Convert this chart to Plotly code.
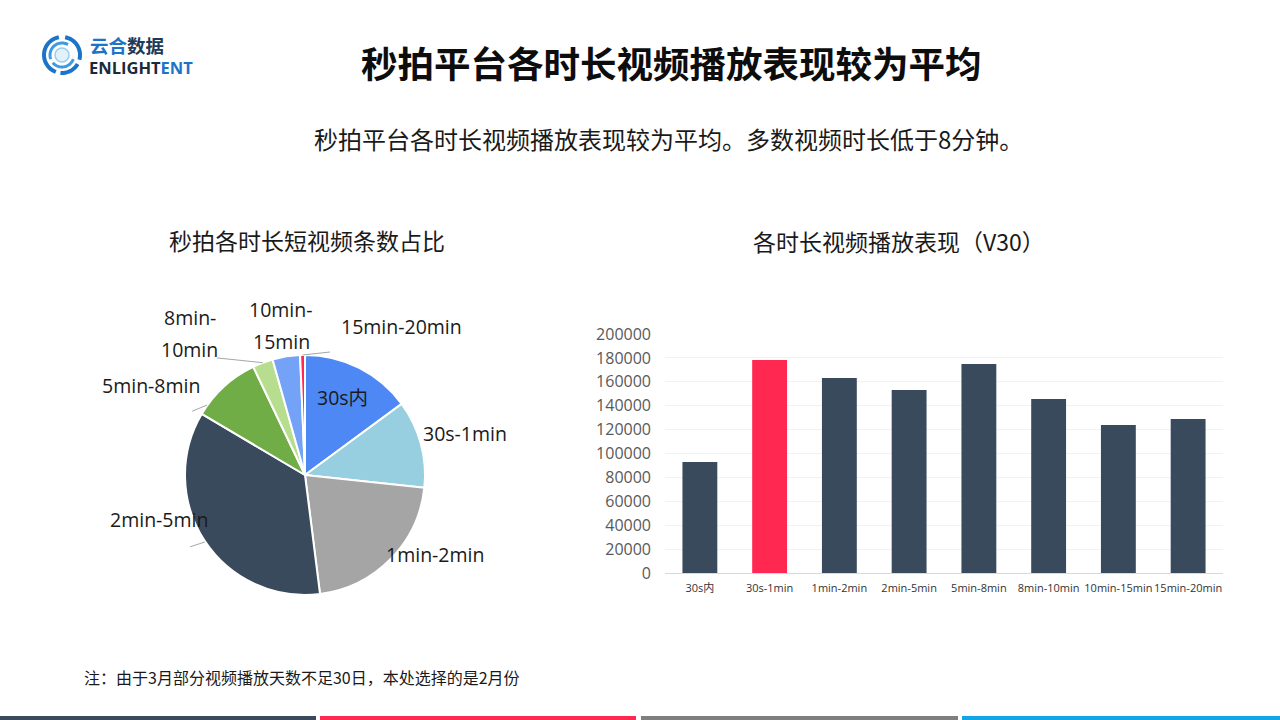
import numpy as np
import plotly.graph_objects as go

W, H = 1280, 720

# ---------------- data ----------------
pie_labels = ["30s内", "30s-1min", "1min-2min", "2min-5min", "5min-8min",
              "8min-10min", "10min-15min", "15min-20min"]
pie_values = [14.9, 11.8, 21.3, 35.5, 9.4, 2.75, 3.7, 0.65]

bar_categories = ["30s内", "30s-1min", "1min-2min", "2min-5min", "5min-8min",
                  "8min-10min", "10min-15min", "15min-20min"]
bar_values = [93000, 178300, 163200, 153200, 174900, 145700, 123900, 129000]
y_tick_values = [0, 20000, 40000, 60000, 80000, 100000, 120000, 140000, 160000, 180000, 200000]

title_text = "秒拍平台各时长视频播放表现较为平均"
subtitle_text = "秒拍平台各时长视频播放表现较为平均。多数视频时长低于8分钟。"
pie_title = "秒拍各时长短视频条数占比"
bar_title = "各时长视频播放表现（V30）"
note_text = "注：由于3月部分视频播放天数不足30日，本处选择的是2月份"

# ---------------- styles ----------------
pie_colors = ["#4D88F5", "#97CEE0", "#A5A5A5", "#394A5D", "#70AD47",
              "#B7DE8E", "#74A2F7", "#FF2850"]
bar_colors = ["#394A5D", "#FF2850", "#394A5D", "#394A5D", "#394A5D",
              "#394A5D", "#394A5D", "#394A5D"]
# label display text (line breaks), radial factor, angle offset (deg)
pie_label_lines = [["30s内"], ["30s-1min"], ["1min-2min"], ["2min-5min"], ["5min-8min"],
                   ["8min-", "10min"], ["10min-", "15min"], ["15min-20min"]]
pie_label_r = [0.72, 1.377, 1.27, 1.27, 1.48, 1.52, 1.26, 1.475]
pie_label_dang = [-0.8, 0.7, -13.2, 16.2, -17.4, -18.6, 0.0, 34.4]
# leader lines: slice index -> (start radius, start angle or None=mid, end radius, end angle)
leader = {7: (1.0, None, 1.046, 11.5), 5: (1.0, None, 1.22, 323.1),
          4: (1.003, 305.5, 1.08, 299.5), 3: (1.003, 236.2, 1.13, 238.0)}

FONT_CJK = "Noto Sans CJK SC"
FONT_LAT = "Open Sans, Noto Sans CJK SC"


def px(x):
    return x / W


def py(y):
    return 1 - y / H


fig = go.Figure()

# ---------------- pie ----------------
pie_l, pie_r, pie_t, pie_b = 185, 425, 355, 595
cx, cy, R = (pie_l + pie_r) / 2, (pie_t + pie_b) / 2, (pie_r - pie_l) / 2

fig.add_trace(go.Pie(
    labels=pie_labels, values=pie_values, sort=False, direction="clockwise",
    rotation=0, textinfo="none", hoverinfo="label+percent",
    marker=dict(colors=pie_colors, line=dict(color="white", width=2)),
    domain=dict(x=[px(pie_l), px(pie_r)], y=[py(pie_b), py(pie_t)]),
    showlegend=False, automargin=False,
))

annotations = []
shapes = []
vals = np.array(pie_values, dtype=float)
cum = np.cumsum(vals) / vals.sum() * 360
starts = np.concatenate([[0], cum[:-1]])
mids = (starts + cum) / 2
for i, lines in enumerate(pie_label_lines):
    ang = np.deg2rad(mids[i] + pie_label_dang[i])
    lx = cx + pie_label_r[i] * R * np.sin(ang)
    ly = cy - pie_label_r[i] * R * np.cos(ang)
    n = len(lines)
    for j, t in enumerate(lines):
        yy = ly + (j - (n - 1) / 2) * 32
        annotations.append(dict(x=px(lx), y=py(yy), xref="paper", yref="paper",
                                text=t, showarrow=False, xanchor="center", yanchor="middle",
                                font=dict(family=FONT_LAT, size=19.5, color="#1A1A1A")))
    if i in leader:
        k1, s_ang, k2, e_ang = leader[i]
        a1 = np.deg2rad(mids[i] if s_ang is None else s_ang)
        a2 = np.deg2rad(e_ang)
        x0, y0 = cx + k1 * R * np.sin(a1), cy - k1 * R * np.cos(a1)
        x1, y1 = cx + k2 * R * np.sin(a2), cy - k2 * R * np.cos(a2)
        shapes.append(dict(type="line", xref="paper", yref="paper",
                           x0=px(x0), y0=py(y0), x1=px(x1), y1=py(y1),
                           line=dict(color="#A6A6A6", width=1)))

# ---------------- bars ----------------
fig.add_trace(go.Bar(
    x=bar_categories, y=bar_values, marker=dict(color=bar_colors, line=dict(width=0)),
    width=0.5, showlegend=False, xaxis="x", yaxis="y",
))

bx0, bx1, by0, by1 = 665, 1223, 573.3, 334
fig.update_layout(
    xaxis=dict(domain=[px(bx0), px(bx1)], anchor="y", showgrid=False, automargin=False,
               showline=True, linecolor="#D9D9D9", linewidth=1,
               tickfont=dict(family=FONT_LAT, size=11, color="#333333"),
               tickangle=0, ticks="", ticklabelstandoff=4, fixedrange=True),
    yaxis=dict(domain=[py(by0), py(by1)], anchor="x", range=[0, 200000], automargin=False,
               tickvals=y_tick_values, ticktext=[str(v) for v in y_tick_values],
               showgrid=True, gridcolor="#F2F2F2", gridwidth=1, zeroline=False,
               showline=False, ticks="", ticklabelstandoff=13,
               tickfont=dict(family=FONT_LAT, size=16, color="#595959"), fixedrange=True),
)

# ---------------- texts ----------------
P = dict(xref="paper", yref="paper", showarrow=False)
annotations += [
    dict(x=px(671), y=py(62), text="<b>" + title_text + "</b>",
         xanchor="center", yanchor="middle", font=dict(family=FONT_CJK, size=36.5, color="#0D0D0D"), **P),
    dict(x=px(668), y=py(138), text=subtitle_text,
         xanchor="center", yanchor="middle", font=dict(family=FONT_CJK, size=24, color="#1A1A1A"), **P),
    dict(x=px(307), y=py(240), text=pie_title,
         xanchor="center", yanchor="middle", font=dict(family=FONT_CJK, size=23, color="#1A1A1A"), **P),
    dict(x=px(899), y=py(241), text=bar_title,
         xanchor="center", yanchor="middle", font=dict(family=FONT_CJK, size=23, color="#1A1A1A"), **P),
    dict(x=px(82), y=py(677), text=note_text,
         xanchor="left", yanchor="middle", font=dict(family=FONT_CJK, size=16, color="#1A1A1A"), **P),
    # logo text
    dict(x=px(88), y=py(45), text="<b><span style='color:#1C74C9'>云合</span>数据</b>",
         xanchor="left", yanchor="middle", font=dict(family=FONT_CJK, size=18.5, color="#1E3A5A"), **P),
    dict(x=px(87), y=py(67), text="<b>ENLIGHT<span style='color:#1C74C9'>ENT</span></b>",
         xanchor="left", yanchor="middle", font=dict(family="Open Sans", size=16.5, color="#1A2B3C"), **P),
]

# ---------------- logo icon ----------------
lcx, lcy = 62, 55


def arc_path(r, a0, a1, n=30):
    t = np.deg2rad(np.linspace(a0, a1, n))
    pts = [(px(lcx + r * np.cos(a)), py(lcy - r * np.sin(a))) for a in t]
    return "M " + " L ".join(f"{x:.5f},{y:.5f}" for x, y in pts)


for a0, a1 in [(100, 250), (265, 330), (345, 440)]:
    shapes.append(dict(type="path", xref="paper", yref="paper", path=arc_path(18, a0, a1),
                       line=dict(color="#1C74C9", width=4)))
for a0, a1 in [(60, 200), (220, 340)]:
    shapes.append(dict(type="path", xref="paper", yref="paper", path=arc_path(12, a0, a1),
                       line=dict(color="#3C9BE3", width=3)))
shapes.append(dict(type="circle", xref="paper", yref="paper",
                   x0=px(lcx - 7), x1=px(lcx + 7), y0=py(lcy + 7), y1=py(lcy - 7),
                   line=dict(color="#9CCBF0", width=1.5), fillcolor="#E3F1FB"))

# ---------------- bottom stripe ----------------
for (x0, x1, c) in [(0, 316, "#3A4A5C"), (320, 636, "#FF2850"),
                    (641, 958, "#7F7F7F"), (962, 1280, "#12A6E6")]:
    shapes.append(dict(type="rect", xref="paper", yref="paper",
                       x0=px(x0), x1=px(x1), y0=py(720), y1=py(716),
                       line=dict(width=0), fillcolor=c))

fig.update_layout(
    width=W, height=H, margin=dict(l=0, r=0, t=0, b=0, pad=0, autoexpand=False),
    paper_bgcolor="white", plot_bgcolor="white",
    annotations=annotations, shapes=shapes, bargap=0.5,
    font=dict(family=FONT_LAT),
)

fig.write_html("out.html", config={"displayModeBar": False})
